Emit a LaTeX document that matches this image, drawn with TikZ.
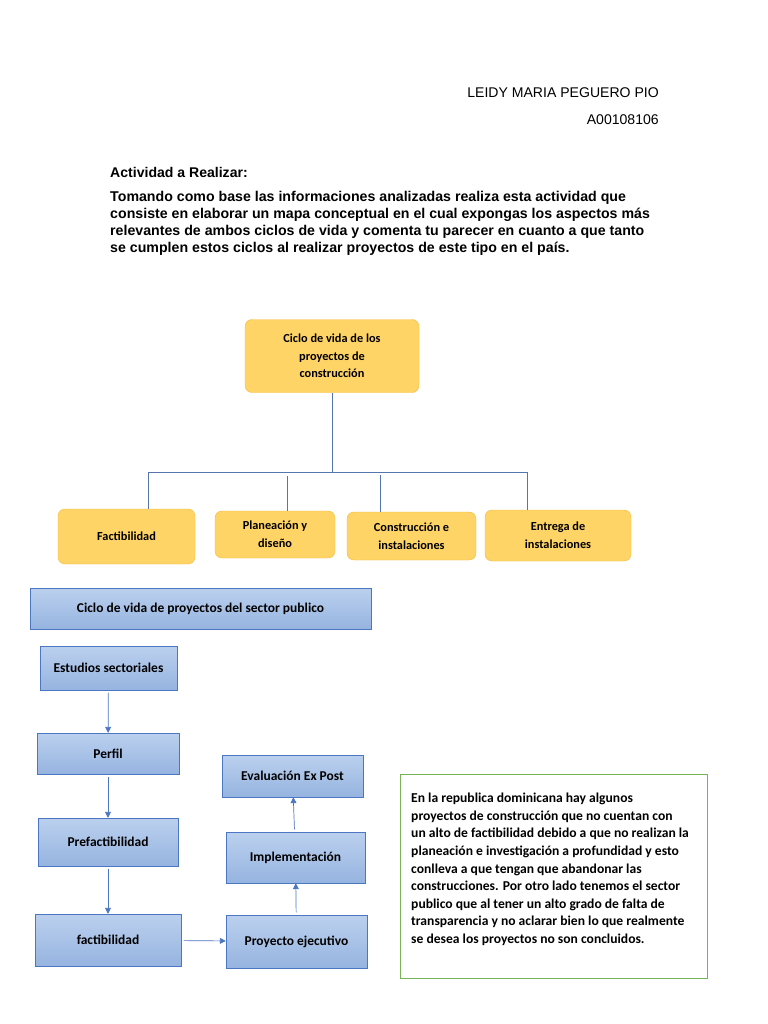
\documentclass[tikz,border=0pt]{standalone}
\usepackage{fontspec}
\setmainfont{Liberation Sans}
\newfontfamily\calibri{Carlito}
\usetikzlibrary{positioning,arrows.meta,calc}
\usepackage{xcolor}

\definecolor{naranja}{HTML}{FFD466}
\definecolor{naranjaborde}{HTML}{F6BF3E}
\definecolor{azularriba}{HTML}{BBD0EE}
\definecolor{azulabajo}{HTML}{96B4E0}
\definecolor{azulborde}{HTML}{4A76C2}
\definecolor{ramal}{HTML}{5675AE}
\definecolor{verde}{HTML}{76B455}

\begin{document}
\begin{tikzpicture}[
  x=0.03cm, y=-0.03cm,
  caja/.style n args={2}{minimum width=#1*0.03cm, minimum height=#2*0.03cm},
  fase/.style={draw=naranjaborde, fill=naranja, rounded corners=6pt, inner sep=0pt, align=center,
    font=\calibri\bfseries\fontsize{10.5}{15}\selectfont},
  etapa/.style={draw=azulborde, top color=azularriba, bottom color=azulabajo, inner sep=0pt, align=center,
    font=\calibri\bfseries\fontsize{11.5}{14}\selectfont},
  rama/.style={draw=ramal, semithick},
  flecha/.style={-{Triangle[width=5pt,length=5pt]}, draw=azulborde, semithick, shorten <=2pt},
  texto/.style={inner sep=0pt, font=\fontsize{12}{14.5}\selectfont}
]
  \useasboundingbox[fill=white] (0,0) rectangle (768,1024);

  % encabezado
  \node[texto, anchor=east] (autor) at (659,93) {LEIDY MARIA PEGUERO PIO};
  \node[texto, anchor=east] (matricula) at (659,120) {A00108106};
  \node[texto, anchor=west, font=\bfseries\fontsize{12}{14.5}\selectfont] (titulo) at (110,172) {Actividad a Realizar:};
  \node[texto, anchor=north west, align=left, font=\bfseries\fontsize{12.1}{14.5}\selectfont] (consigna) at (110,191)
    {Tomando como base las informaciones analizadas realiza esta actividad que\\
     consiste en elaborar un mapa conceptual en el cual expongas los aspectos más\\
     relevantes de ambos ciclos de vida y comenta tu parecer en cuanto a que tanto\\
     se cumplen estos ciclos al realizar proyectos de este tipo en el país.};

  % ciclo de construccion
  \node[fase, caja={174}{73}] (ciclo) at (332,356) {Ciclo de vida de los\\proyectos de\\construcción};
  \node[fase, caja={137}{55}] (factib) at (126.5,536.5) {Factibilidad};
  \node[fase, caja={120}{47}] (planea) at (275,534.5) {Planeación y\\diseño};
  \node[fase, caja={129}{48}] (constru) at (411.5,536) {Construcción e\\instalaciones};
  \node[fase, caja={146}{51}] (entrega) at (558,535.5) {Entrega de\\instalaciones};

  \coordinate (bus) at ($(ciclo.south)+(0,80)$);
  \draw[rama] (ciclo.south) -- (bus);
  \draw[rama] ($(factib.north west)!0.66!(factib.north east)$) |- (bus);
  \draw[rama] ($(entrega.north west)!0.29!(entrega.north east)$) |- (bus);
  \draw[rama] ($(planea.north west)!0.6!(planea.north east)$) -- ++(0,-35);
  \draw[rama] ($(constru.north west)!0.26!(constru.north east)$) -- ++(0,-37);

  % ciclo del sector publico
  \node[etapa, caja={341}{41}] (publico) at (200.5,608.5) {Ciclo de vida de proyectos del sector publico};
  \node[etapa, caja={137}{44}] (estudios) at (108.5,668) {Estudios sectoriales};
  \node[etapa, caja={142}{41}] (perfil) at (108,753.5) {Perfil};
  \node[etapa, caja={140}{48}] (prefact) at (108,842) {Prefactibilidad};
  \node[etapa, caja={146}{52}] (fact) at (108,940) {factibilidad};
  \node[etapa, caja={141}{53}] (proyecto) at (296.5,941.5) {Proyecto ejecutivo};
  \node[etapa, caja={139}{51}] (implem) at (295.5,857.5) {Implementación};
  \node[etapa, caja={141}{42}] (evalua) at (292.5,776) {Evaluación Ex Post};

  \draw[flecha] (estudios) -- (perfil);
  \draw[flecha] (perfil) -- (prefact);
  \draw[flecha] (prefact) -- (fact);
  \draw[flecha] (fact) -- (proyecto);
  \draw[flecha] (proyecto) -- (implem);
  \draw[flecha] (implem) -- (evalua);

  % comentario
  \node[draw=verde, thick, caja={307}{204}] (marco) at (553.5,876) {};
  \node[anchor=north west, inner sep=0pt, align=left, font=\calibri\bfseries\fontsize{11.6}{15}\selectfont] (comentario) at (411,793)
    {En la republica dominicana hay algunos\\
     proyectos de construcción que no cuentan con\\
     un alto de factibilidad debido a que no realizan la\\
     planeación e investigación a profundidad y esto\\
     conlleva a que tengan que abandonar las\\
     construcciones. Por otro lado tenemos el sector\\
     publico que al tener un alto grado de falta de\\
     transparencia y no aclarar bien lo que realmente\\
     se desea los proyectos no son concluidos.};
\end{tikzpicture}
\end{document}
